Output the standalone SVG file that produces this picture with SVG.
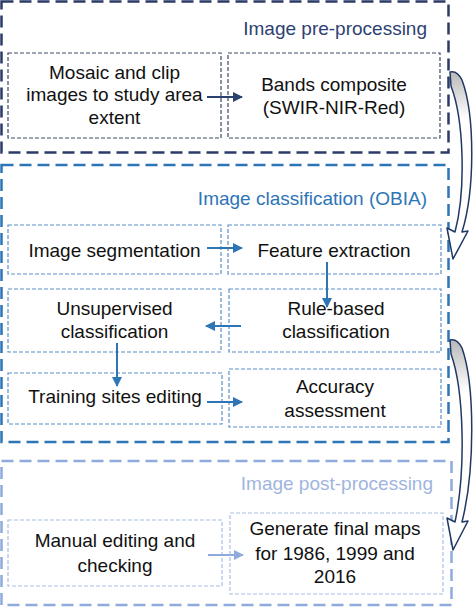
<svg xmlns="http://www.w3.org/2000/svg" width="474" height="609" viewBox="0 0 474 609">
<defs>
<style>
text{font-family:"Liberation Sans",Arial,sans-serif;font-size:19px;fill:#111;text-anchor:middle}
.t{text-anchor:end}
.o{fill:none;stroke-width:2.5;stroke-dasharray:12 6}
.i{fill:#fff;stroke-width:1.2;stroke-dasharray:4 2}
.a{fill:none;stroke-width:2}
</style>
<marker id="m1" viewBox="0 0 10 10" refX="9" refY="5" markerWidth="5" markerHeight="5" orient="auto"><path d="M0 0L10 5L0 10z" fill="#2b4170"/></marker>
<marker id="m2" viewBox="0 0 10 10" refX="9" refY="5" markerWidth="5" markerHeight="5" orient="auto"><path d="M0 0L10 5L0 10z" fill="#2e75b6"/></marker>
<marker id="m3" viewBox="0 0 10 10" refX="9" refY="5" markerWidth="5" markerHeight="5" orient="auto"><path d="M0 0L10 5L0 10z" fill="#8faadc"/></marker>
<linearGradient id="g" x1="0" y1="0" x2="0" y2="1"><stop offset="0" stop-color="#b8b8b8"/><stop offset="0.25" stop-color="#ffffff"/></linearGradient>
</defs>
<rect width="474" height="609" fill="#fff"/>

<g id="stage1">
<rect class="o" x="1.5" y="1.5" width="447" height="151" stroke="#2b3a67"/>
<text class="t" x="427" y="35" fill="#2e4272" style="fill:#2e4272">Image pre-processing</text>
</g>
<g id="stage2">
<rect class="o" x="1.5" y="165" width="447" height="277" stroke="#2e75b6"/>
<text class="t" x="427" y="205" style="fill:#2e75b6">Image classification (OBIA)</text>
</g>
<g id="stage3">
<rect class="o" x="1.5" y="461" width="450" height="144" stroke="#8faadc"/>
<text class="t" x="433" y="490" style="fill:#9fb5e0">Image post-processing</text>
</g>

<g id="mosaic">
<rect class="i" x="8" y="53" width="213" height="85" stroke="#3c4a66"/>
<text x="114.5" y="79">Mosaic and clip</text>
<text x="114.5" y="101">images to study area</text>
<text x="114.5" y="124">extent</text>
</g>
<g id="bands">
<rect class="i" x="228" y="53" width="212" height="85" stroke="#3c4a66"/>
<text x="334" y="91">Bands composite</text>
<text x="334" y="114">(SWIR-NIR-Red)</text>
</g>

<g id="segmentation">
<rect class="i" x="8" y="225" width="213" height="49" stroke="#5b8fc7"/>
<text x="114.5" y="257">Image segmentation</text>
</g>
<g id="feature">
<rect class="i" x="228" y="225" width="213" height="49" stroke="#5b8fc7"/>
<text x="334" y="257">Feature extraction</text>
</g>
<g id="unsupervised">
<rect class="i" x="8" y="289" width="213" height="63" stroke="#5b8fc7"/>
<text x="114.5" y="315">Unsupervised</text>
<text x="114.5" y="338">classification</text>
</g>
<g id="rulebased">
<rect class="i" x="229" y="289" width="212" height="63" stroke="#5b8fc7"/>
<text x="336" y="315">Rule-based</text>
<text x="336" y="338">classification</text>
</g>
<g id="training">
<rect class="i" x="8" y="373" width="214" height="51" stroke="#5b8fc7"/>
<text x="115" y="403">Training sites editing</text>
</g>
<g id="accuracy">
<rect class="i" x="229" y="369" width="212" height="58" stroke="#5b8fc7"/>
<text x="335" y="393">Accuracy</text>
<text x="335" y="417">assessment</text>
</g>

<g id="manual">
<rect class="i" x="8" y="520" width="214" height="66" stroke="#a9bde3"/>
<text x="115" y="547">Manual editing and</text>
<text x="115" y="572">checking</text>
</g>
<g id="generate">
<rect class="i" x="230" y="513" width="213" height="81" stroke="#a9bde3"/>
<text x="335" y="535">Generate final maps</text>
<text x="335" y="560">for 1986, 1999 and</text>
<text x="335" y="583">2016</text>
</g>

<g id="connectors">
<line class="a" x1="207" y1="97" x2="242" y2="97" stroke="#2b4170" marker-end="url(#m1)"/>
<line class="a" x1="207" y1="248" x2="242" y2="248" stroke="#2e75b6" marker-end="url(#m2)"/>
<line class="a" x1="327" y1="262" x2="327" y2="307" stroke="#2e75b6" marker-end="url(#m2)"/>
<line class="a" x1="241" y1="326" x2="206" y2="326" stroke="#2e75b6" marker-end="url(#m2)"/>
<line class="a" x1="117" y1="343" x2="117" y2="386" stroke="#2e75b6" marker-end="url(#m2)"/>
<line class="a" x1="207" y1="402" x2="242" y2="402" stroke="#2e75b6" marker-end="url(#m2)"/>
<line class="a" x1="208" y1="555" x2="243" y2="555" stroke="#8faadc" marker-end="url(#m3)"/>
<path d="M450 72 Q457 70 462 80 C475 115 475 190 462 232 L468 231 L453 259 L447 228 L455 232 C466 190 464 120 451 86 Z" fill="url(#g)" stroke="#1f3864" stroke-width="1.5" stroke-linejoin="round"/>
<path d="M450 340 Q457 338 462 348 C475 385 475 470 462 522 L468 521 L453 550 L447 518 L455 522 C466 470 464 390 451 354 Z" fill="url(#g)" stroke="#1f3864" stroke-width="1.5" stroke-linejoin="round"/>
</g>
</svg>
